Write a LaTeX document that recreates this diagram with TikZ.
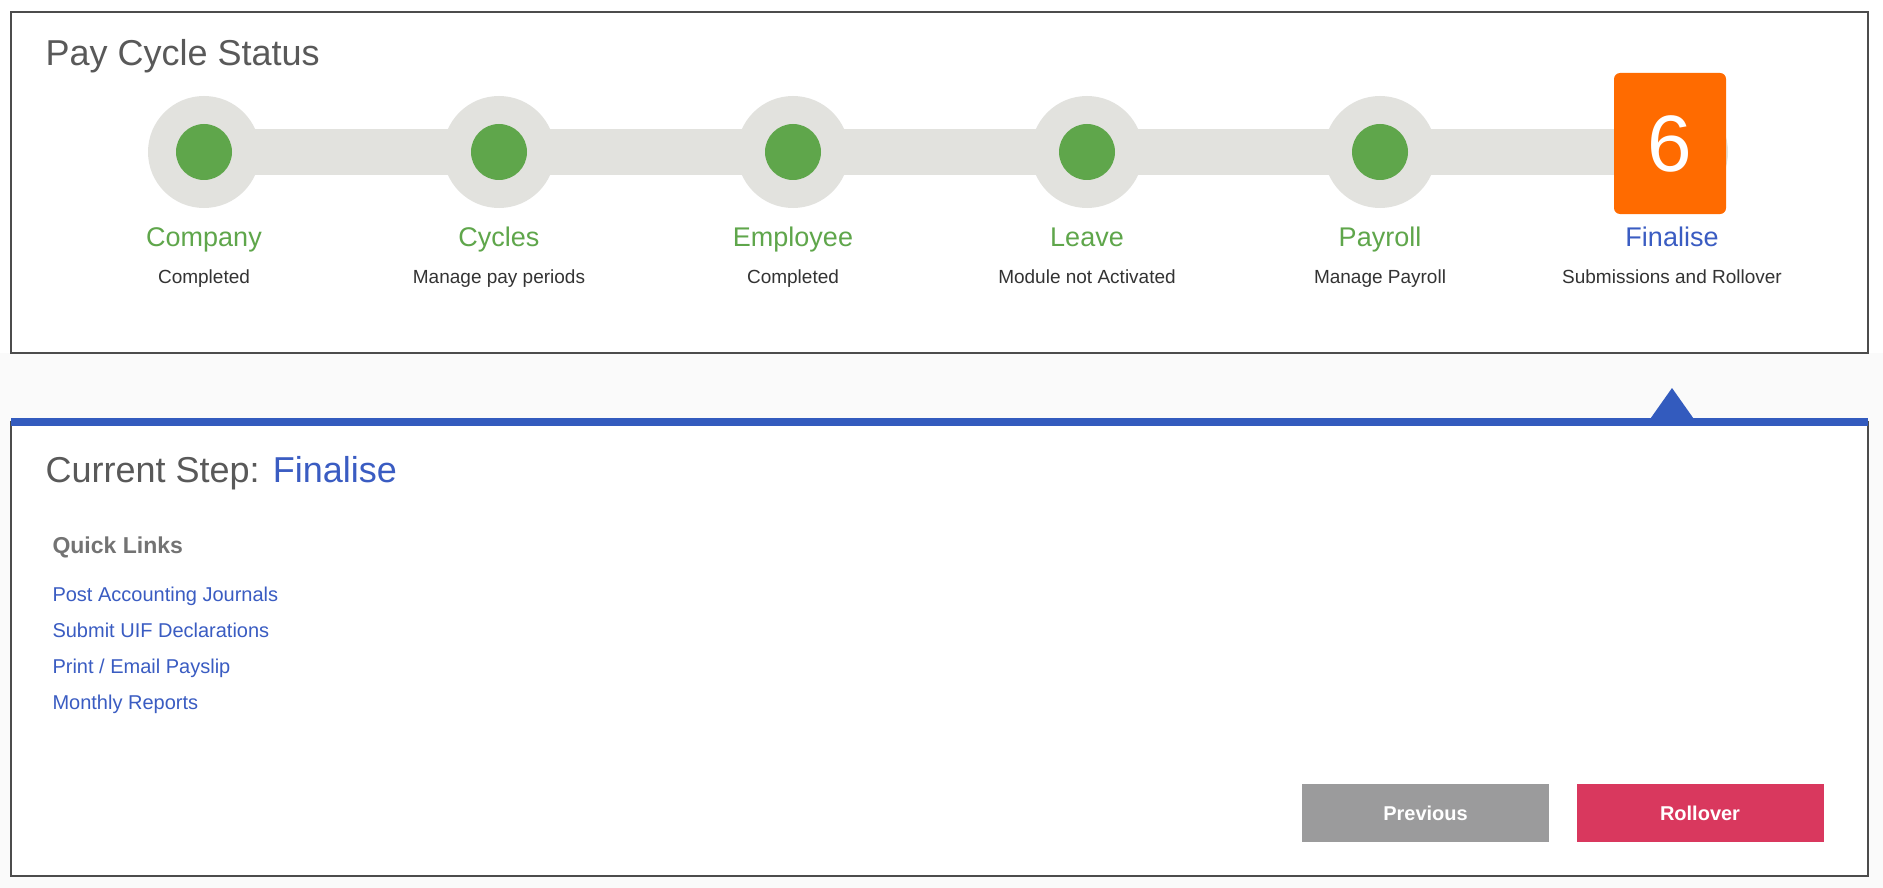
\documentclass[tikz,border=0pt]{standalone}
\usepackage{fontspec}
\setmainfont{Liberation Sans}
\usetikzlibrary{positioning}
\definecolor{stepgreen}{HTML}{5FA64B}
\definecolor{trackgrey}{HTML}{E2E2DE}
\definecolor{linkblue}{HTML}{3A5CC2}
\definecolor{bandblue}{HTML}{335BBE}
\definecolor{boxorange}{HTML}{FF6B00}
\definecolor{textgrey}{HTML}{555555}
\definecolor{btngrey}{HTML}{9B9B9C}
\definecolor{btnred}{HTML}{D9385E}
\tikzset{
  steptitle/.style={text=stepgreen,font=\fontsize{27}{30}\selectfont,anchor=base},
  stepsub/.style={text=black!80,font=\fontsize{19}{22}\selectfont,anchor=base},
  quicklink/.style={text=linkblue,font=\fontsize{20}{24}\selectfont,anchor=base west},
  button/.style={minimum width=247pt,minimum height=58pt,inner sep=0pt,text=white,
    font=\fontsize{20}{24}\selectfont\bfseries}
}
\begin{document}
\begin{tikzpicture}[x=1pt,y=-1pt]
  \fill[white] (0,0) rectangle (1883,888);
  \fill[black!2] (0,353) rectangle (1883,888);
  % status panel
  \draw[fill=white,draw=black!70,line width=1.5pt] (11,12) rectangle (1868,353);
  \node[anchor=base west,text=black!65,font=\fontsize{36}{40}\selectfont] (title) at (42,66) {Pay Cycle Status};
  \fill[trackgrey] (204,129) rectangle (1672,175);
  \foreach \x/\n in {204/1,499/2,793/3,1087/4,1380/5,1672/6}
    {
      \fill[trackgrey] (\x,152) circle (56);
      \fill[stepgreen] (\x,152) circle (28);
      \coordinate (c\n) at (\x,152);
    }
  \node[fill=boxorange,rounded corners=6pt,minimum width=112pt,minimum height=141pt,
        text=white,font=\fontsize{80}{80}\selectfont] (six) at (1670,143.5) {6};
  \foreach \x/\t/\s in {204/Company/Completed,499/Cycles/Manage pay periods,
      793/Employee/Completed,1087/Leave/Module not Activated,1380/Payroll/Manage Payroll}
    {
      \node[steptitle] at (\x,246) {\t};
      \node[stepsub] at (\x,283) {\s};
    }
  \node[steptitle,text=linkblue] (fin) at (1672,246) {Finalise};
  \node[stepsub] (finsub) at (1672,283) {Submissions and Rollover};
  % current step panel
  \draw[fill=white,draw=black!70,line width=1.5pt] (11,422) rectangle (1868,876);
  \fill[bandblue] (11,418) rectangle (1868,426);
  \fill[bandblue] (1648,422) -- (1672,388) -- (1696,422) -- cycle;
  \node[anchor=base west,text=black!65,font=\fontsize{36}{40}\selectfont] (cur) at (42,482)
    {Current Step: \textcolor{linkblue}{Finalise}};
  \node[anchor=base west,text=black!55,font=\fontsize{23}{26}\selectfont\bfseries] (ql) at (49,553) {Quick Links};
  \node[quicklink] (l1) at (49,601) {Post Accounting Journals};
  \node[quicklink] (l2) at (49,637) {Submit UIF Declarations};
  \node[quicklink] (l3) at (49,673) {Print / Email Payslip};
  \node[quicklink] (l4) at (49,709) {Monthly Reports};
  \node[button,fill=btngrey] (prev) at (1425.5,813) {Previous};
  \node[button,fill=btnred] (roll) at (1700,813) {Rollover};
\end{tikzpicture}
\end{document}
